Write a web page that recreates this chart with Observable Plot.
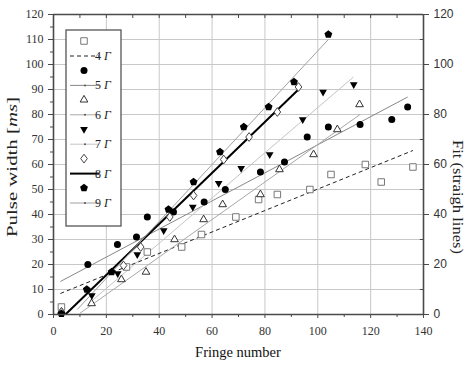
<!DOCTYPE html>
<html><head><meta charset="utf-8">
<script src="https://cdn.jsdelivr.net/npm/d3@7"></script>
<script src="https://cdn.jsdelivr.net/npm/@observablehq/plot@0.6"></script>
<style>body{margin:0;background:#fff}</style>
</head><body><div id="chart"></div>
<script>
// ---- data ----
const xTicks = [0, 20, 40, 60, 80, 100, 120, 140];
const yTicksLeft = [0, 10, 20, 30, 40, 50, 60, 70, 80, 90, 100, 110, 120];
const yTicksRight = [0, 20, 40, 60, 80, 100, 120];
const legendNumbers = [4, 5, 6, 7, 8, 9];

const s4x = [3, 27.6, 35.5, 48.5, 56, 69, 77.6, 84.7, 97, 105, 118, 124, 136];
const s4y = [3, 19, 25, 27, 32, 39, 46, 48, 50, 56, 60, 53, 59];
const s5x = [13, 24.2, 31.4, 35.5, 45.4, 57, 65, 78.3, 87.4, 96, 104, 116, 128, 134];
const s5y = [20, 28, 31, 39, 41, 45, 50, 57, 61, 71, 75, 76, 78, 83];
const s6x = [3, 14.4, 25.7, 35, 45.8, 56.8, 64, 78.3, 85.5, 98.4, 107.4, 115.8];
const s6y = [1, 4.4, 14, 17, 30, 38, 44, 48, 58, 64, 74, 84];
const s7x = [14.5, 24.3, 31.7, 41.7, 52.7, 62.5, 71, 81.8, 94.3, 102, 113.6];
const s7y = [7.6, 16.4, 24, 33.6, 43, 52.5, 58.5, 64, 78, 89, 92];
const s8x = [3, 26.5, 33, 44, 53, 64.4, 74, 84.7, 92.7];
const s8y = [1, 19.6, 27, 39, 47.6, 62, 71, 81, 91];
const s9x = [3, 12.6, 22, 43.5, 53, 63, 72, 81.4, 91, 104];
const s9y = [0.3, 10, 17, 42, 53, 65, 75, 83, 93, 112];

// straight-line fits (end points)
const fitX1 = [2.6, 2.6, 10, 14, 4.5, 9];
const fitY1 = [8.4, 13.2, 0.5, 5, 0, 2];
const fitX2 = [136, 134, 116, 113.5, 92.7, 104];
const fitY2 = [65.6, 87, 80, 95, 90, 110];

// ---- symbols ----
const sym = fn => ({draw(c, size) { const r = Math.sqrt(size / Math.PI); fn(c, r); }});
const symSquare = sym((c, r) => { const h = 0.93 * r; c.moveTo(-h, -h); c.lineTo(h, -h); c.lineTo(h, h); c.lineTo(-h, h); c.closePath(); });
const symCircle = sym((c, r) => { c.moveTo(r, 0); c.arc(0, 0, r, 0, 2 * Math.PI); });
const symTriUp = sym((c, r) => { const w = 1.1 * r, h = 1.9 * r; c.moveTo(0, -2 * h / 3); c.lineTo(w, h / 3); c.lineTo(-w, h / 3); c.closePath(); });
const symTriDown = sym((c, r) => { const w = 1.1 * r, h = 1.9 * r; c.moveTo(0, 2 * h / 3); c.lineTo(w, -h / 3); c.lineTo(-w, -h / 3); c.closePath(); });
const symDiamond = sym((c, r) => { const a = 1.25 * r, b = 0.95 * r; c.moveTo(0, -a); c.lineTo(b, 0); c.lineTo(0, a); c.lineTo(-b, 0); c.closePath(); });
const symPentagon = sym((c, r) => { const R = 1.18 * r; for (let k = 0; k < 5; k++) { const t = -Math.PI / 2 + k * 2 * Math.PI / 5; const px = R * Math.cos(t), py = R * Math.sin(t); k ? c.lineTo(px, py) : c.moveTo(px, py); } c.closePath(); });

const seriesX = [s4x, s5x, s6x, s7x, s8x, s9x];
const seriesY = [s4y, s5y, s6y, s7y, s8y, s9y];
const markStyle = [
  {symbol: symSquare, fill: "white", stroke: "#777", strokeWidth: 1},
  {symbol: symCircle, fill: "black", stroke: "none"},
  {symbol: symTriUp, fill: "white", stroke: "#333", strokeWidth: 1},
  {symbol: symTriDown, fill: "black", stroke: "none"},
  {symbol: symDiamond, fill: "white", stroke: "#444", strokeWidth: 1},
  {symbol: symPentagon, fill: "black", stroke: "none"}
];
const lineStyle = [
  {stroke: "#222", strokeWidth: 1, strokeDasharray: "4,3"},
  {stroke: "#888", strokeWidth: 1},
  {stroke: "#a8a8a8", strokeWidth: 1},
  {stroke: "#c4c4c4", strokeWidth: 1},
  {stroke: "#000", strokeWidth: 2},
  {stroke: "#a0a0a0", strokeWidth: 1}
];
const R = 3.5;

const fitRows = legendNumbers.map((n, i) => ({n, x1: fitX1[i], y1: fitY1[i], x2: fitX2[i], y2: fitY2[i]}));
const lineMarks = fitRows.map((row, i) => Plot.link([row], {x1: "x1", y1: "y1", x2: "x2", y2: "y2", ...lineStyle[i]}));
const dotMarks = legendNumbers.map((n, i) =>
  Plot.dot(seriesX[i].map((x, j) => ({x, y: seriesY[i][j]})), {x: "x", y: "y", r: R, ...markStyle[i]}));

const axisColor = "#4a4a4a";
const plot = Plot.plot({
  width: 474, height: 368,
  marginLeft: 53, marginRight: 51, marginTop: 14, marginBottom: 54,
  x: {domain: [0, 140]},
  y: {domain: [0, 120]},
  style: {fontFamily: "'Liberation Serif', serif", fontSize: "12px", background: "white", color: "#222"},
  marks: [
    Plot.gridX(d3.range(20, 140, 20), {stroke: "#c8c8c8", strokeOpacity: 1, strokeWidth: 1}),
    Plot.gridY(d3.range(10, 120, 10), {stroke: "#c8c8c8", strokeOpacity: 1, strokeWidth: 1}),
    ...lineMarks,
    ...dotMarks,
    Plot.axisY(yTicksLeft, {anchor: "left", tickSize: 5, tickPadding: 5, stroke: axisColor, fill: "#333", label: null, fontSize: 12}),
    Plot.axisY(d3.range(5, 120, 10), {anchor: "left", tickSize: 3, tickFormat: () => "", stroke: axisColor, label: null}),
    Plot.axisX(xTicks, {anchor: "bottom", tickSize: 4, tickPadding: 8, stroke: axisColor, fill: "#333", label: null, fontSize: 12}),
    Plot.axisX(d3.range(10, 140, 20), {anchor: "bottom", tickSize: 3, tickFormat: () => "", stroke: axisColor, label: null}),
    Plot.ruleX(d3.range(10, 140, 10), {y1: 120, y2: 118.4, stroke: axisColor}),
    Plot.axisY(yTicksRight, {anchor: "right", tickSize: 5, tickPadding: 5, stroke: axisColor, fill: "#333", label: null, fontSize: 12, fontFamily: "'Liberation Sans', Arial, sans-serif"}),
    Plot.ruleY(d3.range(10, 120, 20), {x1: 140, x2: 138.8, stroke: axisColor}),
    Plot.ruleX([0, 140], {stroke: axisColor, strokeWidth: 1.6}),
    Plot.ruleY([0, 120], {stroke: axisColor, strokeWidth: 1.6})
  ]
});
document.getElementById("chart").append(plot);

// ---- titles & legend ----
const svg = d3.select(plot);
const serif = "'Liberation Serif', serif";
const lt = svg.append("text").attr("transform", "translate(17,167) rotate(-90)")
  .attr("text-anchor", "middle").attr("font-family", serif).attr("font-size", 15).attr("fill", "#222")
  .attr("textLength", 140).attr("lengthAdjust", "spacingAndGlyphs");
lt.append("tspan").text("Pulse width [");
lt.append("tspan").attr("font-style", "italic").text("ms");
lt.append("tspan").text("]");

svg.append("text").attr("transform", "translate(453,197) rotate(90)")
  .attr("text-anchor", "middle").attr("font-family", serif).attr("font-size", 15).attr("fill", "#222")
  .attr("textLength", 114).attr("lengthAdjust", "spacingAndGlyphs")
  .text("Fit (straigh lines)");

svg.append("text").attr("x", 238).attr("y", 357).attr("text-anchor", "middle")
  .attr("font-family", serif).attr("font-size", 14.5).attr("fill", "#111").text("Fringe number");

const lg = svg.append("g");
lg.append("rect").attr("x", 66).attr("y", 30).attr("width", 55).attr("height", 196)
  .attr("fill", "white").attr("stroke", "#555").attr("stroke-width", 1.3);
legendNumbers.forEach((n, i) => {
  const ys = 41 + 29.4 * i, yl = 56 + 29.4 * i;
  const ms = markStyle[i];
  lg.append("path").attr("transform", `translate(84,${ys})`)
    .attr("d", d3.symbol(ms.symbol, R * R * Math.PI)())
    .attr("fill", ms.fill).attr("stroke", ms.stroke).attr("stroke-width", ms.strokeWidth || 0);
  const ls = lineStyle[i];
  lg.append("line").attr("x1", 70).attr("x2", 99).attr("y1", yl).attr("y2", yl)
    .attr("stroke", ls.stroke).attr("stroke-width", ls.strokeWidth)
    .attr("stroke-dasharray", ls.strokeDasharray || null);
  if (i === 1 || i === 2 || i === 3 || i === 5) {
    lg.append("circle").attr("cx", 85).attr("cy", yl).attr("r", 1).attr("fill", "#555");
  }
  const t = lg.append("text").attr("x", 103).attr("y", yl + 4).attr("font-family", serif)
    .attr("font-size", 12).attr("fill", "#222");
  t.append("tspan").text(n + " ");
  t.append("tspan").attr("font-style", "italic").text("Γ");
});
</script>
</body></html>
